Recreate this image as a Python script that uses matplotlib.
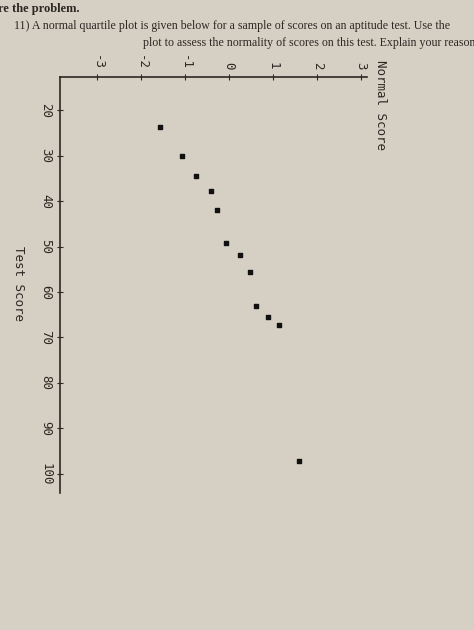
import matplotlib.pyplot as plt

# normal quartile plot (page photographed rotated 90 degrees)
normal_score = [-1.57, -1.07, -0.75, -0.41, -0.27, -0.07, 0.25, 0.48, 0.61, 0.89, 1.14, 1.59]
test_score = [23.7, 30.1, 34.5, 37.8, 42.0, 49.2, 51.9, 55.6, 63.1, 65.5, 67.3, 97.1]
ns_ticks = [-3, -2, -1, 0, 1, 2, 3]
ts_ticks = [20, 30, 40, 50, 60, 70, 80, 90, 100]

paper = "#d6d0c4"
ink = "#2b2823"

fig = plt.figure(figsize=(4.74, 6.30), dpi=100, facecolor=paper)

# question text at top
fig.text(-0.005, 0.995, "re the problem.", fontsize=9, fontweight="bold",
         family="Liberation Serif", color=ink, va="top")
fig.text(0.03, 0.968, "11) A normal quartile plot is given below for a sample of scores on an aptitude test. Use the",
         fontsize=8.6, family="Liberation Serif", color=ink, va="top")
fig.text(0.302, 0.942, "plot to assess the normality of scores on this test. Explain your reasoning.",
         fontsize=8.6, family="Liberation Serif", color=ink, va="top")

ax = fig.add_axes([0.127, 0.2175, 0.648, 0.660])
ax.set_facecolor(paper)
ax.scatter(normal_score, test_score, marker="s", s=6, color="#111111")
ax.set_xlim(-3.84, 3.14)
ax.set_ylim(104.2, 12.75)

for s in ["right", "bottom"]:
    ax.spines[s].set_visible(False)
for s in ["top", "left"]:
    ax.spines[s].set_color(ink)
    ax.spines[s].set_linewidth(1.2)

ax.xaxis.tick_top()
ax.set_xticks(ns_ticks)
ax.set_xticklabels([str(v) for v in ns_ticks], rotation=-90, family="DejaVu Sans Mono",
                   fontsize=9, color=ink)
ax.set_yticks(ts_ticks)
ax.set_yticklabels([str(v) for v in ts_ticks], rotation=-90, family="DejaVu Sans Mono",
                   fontsize=9, color=ink, va="center")
ax.tick_params(direction="inout", length=5, color=ink, pad=3)

fig.text(0.79, 0.905, "Normal Score", rotation=-90, fontsize=9, family="DejaVu Sans Mono",
         color=ink, va="top", ha="left")
fig.text(0.025, 0.61, "Test Score", rotation=-90, fontsize=9, family="DejaVu Sans Mono",
         color=ink, va="top", ha="left")

fig.savefig("out.png", dpi=100, facecolor=paper)
